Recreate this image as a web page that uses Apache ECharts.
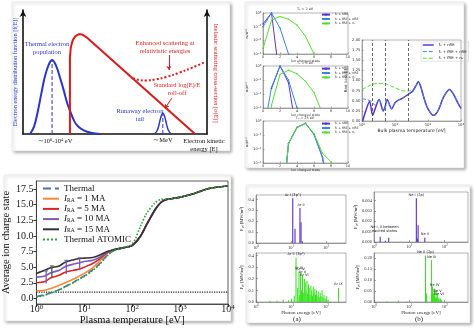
<!DOCTYPE html>
<html>
<head>
<meta charset="utf-8">
<script src="https://cdn.jsdelivr.net/npm/echarts@6/dist/echarts.min.js"></script>
<style>
  html, body { margin: 0; padding: 0; background: #fff; }
  #c { width: 474px; height: 333px; }
</style>
</head>
<body>
<div id="c"></div>
<script>
// ---------- Panel A: schematic of the electron energy distribution (arbitrary units 0-100) ----------
const thermalPopulation = [[3.8,0],[6,6],[8,18],[10,33],[12,47],[14,56],[15.8,59.7],[18,55],[20,46],[22,36],[24,25],[26,17],[28,10],[30,6],[33,3],[37,1],[42,0]];
const thermalCentre = [[15.8,0],[15.8,59.7]];
const runawayTail = [[71.5,0],[73,3],[74,8],[75,14],[76,17],[77,14],[78,8],[79,3],[80.5,0]];
const runawayCentre = [[76,0],[76,17]];
const crossSectionStd = [[25.5,0],[25.5,62],[26,70],[27,75.5],[28.5,79],[30.5,80.6],[32.5,80],[35,77.5],[93.5,0]];
const crossSectionRel = [[59.8,45],[63,43.5],[67,43.2],[72,44],[78,46],[85,49.5],[92,53.5],[99,58]];
const enhancedArrow = [[79.3,63.7],[79.3,51.6]];
const rollOffArrow = [[80.8,28.8],[77.2,20.7]];

// ---------- Panel B: average ion charge state vs plasma temperature ----------
const plasmaTemp = [1,1.5,2,3,4,6,8,10,15,20,30,40,60,100,150,200,300,400,500,700,1000,2000,4000,10000];
const zHighT      = [8.05,8.5,10.0,11.8,14.2,15.4,15.8,16.0,16.2,16.8,17.6,18.0];
const zThermal    = [0.3,0.6,0.9,1.4,1.9,2.6,3.2,3.6,4.6,5.4,6.9,7.6, ...zHighT];
const zIra1       = [1.2,1.3,1.6,2.1,2.5,3.1,3.6,4.0,4.9,5.8,7.2,7.7, ...zHighT];
const zIra5       = [2.5,2.7,3.3,3.7,4.2,4.5,4.7,5.0,5.6,6.2,7.3,7.7, ...zHighT];
const zIra10      = [3.4,3.6,4.1,4.5,5.1,5.5,5.7,5.9,6.1,6.5,7.4,7.75, ...zHighT];
const zIra15      = [4.0,4.5,4.9,5.2,5.8,6.2,6.4,6.45,6.55,6.85,7.5,7.8, ...zHighT];
const zAtomic     = [0.2,0.5,0.85,1.35,1.85,2.55,3.1,3.5,4.5,5.3,6.8,7.6,8.05,8.7,11.6,13.6,15.3,15.85,15.9,16.0,16.2,16.8,17.6,18.0];
const neutralLevel = [[1,1],[10000,1]];
const errorBars10 = [[1.6,2.4,4.4],[4.2,3.9,6.1],[8,4.5,6.5]];
const errorBars15 = [[2.1,3.3,5.2]];
const namesB = ['Thermal','I_RA = 1 MA','I_RA = 5 MA','I_RA = 10 MA','I_RA = 15 MA','Thermal ATOMIC'];
const zTicks = [0,2.5,5,7.5,10,12.5,15,17.5];

// ---------- Panel C: charge-state distributions and radiated energy ----------
const chargeState = [0,1,2,3,4,5,6,7,8,9];
const sliceTitles = ['T\u2091 = 2 eV','T\u2091 = 5 eV','T\u2091 = 25 eV'];
const c1Purple = [0.16,1.0,1e-5,null,null,null,null,null,null,null];
const c1Blue   = [0.1,1.0,0.08,0.001,1e-6,null,null,null,null,null];
const c1Green  = [0.0025,0.3,0.55,0.35,0.13,0.02,0.001,1e-5,null,null];
const c2Purple = [null,0.025,1.0,0.063,1e-5,null,null,null,null,null];
const c2Blue   = [1e-5,0.03,1.0,0.1,0.001,1e-6,null,null,null,null];
const c2Green  = [1e-8,0.0016,0.25,0.5,0.28,0.08,0.0126,0.0004,null,null];
const c3Purple = [null,null,1e-8,0.025,0.35,0.68,0.11,0.0025,1e-6,null];
const c3Blue   = [null,null,1e-8,0.025,0.35,0.68,0.11,0.0025,1e-6,null];
const c3Green  = [null,null,1e-8,0.025,0.35,0.68,0.125,0.005,0.0012,1e-6];
const namesC = ['f\u2080 + nRE','f\u2080 + fRE + nRE','f\u2080 + fRE + n\u2091'];
const radPurple = [[1.05,0.0],[1.3,0.25],[1.7,0.48],[2.1,0.14],[2.5,0.3],[3.3,0.53],[4.4,0.25],[5.0,0.35],[5.8,0.53],[7.9,0.3],[10,0.45],[13,0.52],[16,0.55],[20,0.6],[25,0.66],[30,0.7],[36,0.76],[45,0.9],[51,0.97],[60,0.85],[80,0.5],[100,0.3],[145,0.14],[200,0.25],[300,0.6],[450,0.78],[600,0.65],[800,0.45],[1000,0.31]];
const radBlue   = [[1,0.55],[1.5,0.52],[2,0.48],[2.4,0.4],[3.3,0.53],[4.4,0.25],[5.0,0.35],[5.8,0.53],[7.9,0.3],[10,0.45],[13,0.52],[16,0.55],[20,0.6],[25,0.66],[30,0.7],[36,0.76],[45,0.9],[51,0.97],[60,0.85],[80,0.5],[100,0.3],[145,0.14],[200,0.25],[300,0.6],[450,0.78],[600,0.65],[800,0.45],[1000,0.31]];
const radGreen  = [[1,0.78],[1.5,0.85],[2,0.9],[3,0.93],[4.5,0.93],[6,0.9],[10,0.82],[15,0.76],[20,0.74],[25,0.74],[30,0.76],[36,0.78],[45,0.9],[51,0.97],[60,0.85],[80,0.5],[100,0.3],[145,0.14],[200,0.25],[300,0.6],[450,0.78],[600,0.65],[800,0.45],[1000,0.31]];
const sliceTemps = [2,5,25];
const radTicks = [0,0.25,0.5,0.75,1.0,1.25,1.5,1.75,2.0];

// ---------- Panel D: line-radiation spectra ----------
const specArTop = [[11.2,0.41],[13,0.13],[18,0.32],[19.3,0.19],[21,0.015]];
const specArBottom = [[2.5,0.01],[4,0.012],[6,0.02],[8.5,0.015],[10.5,0.03],[12.4,0.05],[13.9,0.38],[15.5,0.12],[16.9,0.26],[17.8,0.06],[18.8,0.25],[20,0.1],[21.2,0.23],[22.5,0.08],[24,0.2],[25.5,0.17],[27,0.09],[28.5,0.18],[30,0.07],[31.5,0.15],[33,0.12],[35,0.06],[37,0.14],[39,0.1],[41,0.05],[43,0.13],[45,0.08],[48,0.11],[50,0.06],[53,0.1],[56,0.05],[60,0.09],[64,0.04],[68,0.08],[72,0.05],[77,0.1],[82,0.04],[88,0.06],[95,0.03],[105,0.05],[115,0.02],[226,0.12]];
const specNeTop = [[1.5,0.0005],[2.1,0.00012],[2.6,0.0004],[15.8,0.0042],[16.4,0.0004],[16.9,0.0003],[17.7,0.0016],[27.4,0.0004]];
const specNeBottom = [[2.3,0.003],[4.9,0.006],[9,0.002],[28.7,0.21],[30,0.03],[31,0.04],[42.6,0.19],[44,0.03],[45.5,0.07],[48,0.04],[51.7,0.06],[54,0.02],[56.6,0.05],[59,0.02],[62,0.035],[66,0.015],[69,0.02],[73,0.01],[77,0.015],[82,0.008]];
const linesArTop = [[11.2,0.41,'Ar I (3p\u2075)'],[19.3,0.32,'Ar II']];
const linesArBottom = [[13.9,0.38,'Ar II (3p\u2074)'],[16.9,0.26,'Ar III'],[18.8,0.25,'Ar IV'],[21.2,0.23,'Ar V'],[24,0.2,'Ar VI'],[226,0.12,'Ar IX']];
const linesNeTop = [[15.8,0.0042,'Ne I (2p)'],[27.4,0.0004,'Ne II'],[2.0,0.0007,'Ne I, II between\nexcited states']];
const linesNeBottom = [[28.7,0.21,'Ne II (2p)'],[42.6,0.19,'Ne III'],[51.7,0.06,'Ne IV'],[62,0.035,'Ne V'],[69,0.02,'Ne VI']];
const arTicks = [0,0.1,0.2,0.3,0.4];
const neTopTicks = [0,0.001,0.002,0.003,0.004];
const neBottomTicks = [0,0.05,0.1,0.15,0.2];
const decades = [1,10,100];

// ---------- styling ----------
const SERIF = 'Liberation Serif';
const SANS = 'DejaVu Sans';
const BLUE_A = '#2a36c8', RED_A = '#d81b1b';
const C_PURPLE = '#5b34d0', C_BLUE = '#3a86d8', C_GREEN = '#5ad83a';

const pair = (xs, ys) => xs.map((x, i) => [x, ys[i]]);
function powLabel(v) {
  const e = Math.round(Math.log10(v));
  if (Math.abs(Math.log10(v) - e) > 1e-6) return '';
  return '10{s|' + (e < 0 ? '\u2212' + (-e) : e) + '}';
}

function spikeSeries(xi, yi, data, color, width) {
  return {
    type: 'custom', xAxisIndex: xi, yAxisIndex: yi, data: data, silent: true,
    renderItem: (params, api) => {
      const a = api.coord([api.value(0), 0]);
      const b = api.coord([api.value(0), api.value(1)]);
      return { type: 'line', shape: { x1: a[0], y1: a[1], x2: b[0], y2: b[1] },
               style: { stroke: color, lineWidth: width } };
    }
  };
}
function labelSeries(xi, yi, items) {
  return {
    type: 'custom', xAxisIndex: xi, yAxisIndex: yi, data: items.map(d => [d[0], d[1]]), silent: true, z: 5,
    renderItem: (params, api) => {
      const p = api.coord([api.value(0), api.value(1)]);
      return { type: 'text', style: { x: p[0], y: p[1] - 1.5, text: items[params.dataIndex][2],
               fill: '#222', fontSize: 3.6, fontFamily: SANS, align: 'center', verticalAlign: 'bottom' } };
    }
  };
}
function errorBarSeries(xi, yi, data, color) {
  return {
    type: 'custom', xAxisIndex: xi, yAxisIndex: yi, data: data, silent: true, z: 4,
    renderItem: (params, api) => {
      const lo = api.coord([api.value(0), api.value(1)]);
      const hi = api.coord([api.value(0), api.value(2)]);
      return { type: 'group', children: [
        { type: 'line', shape: { x1: lo[0], y1: lo[1], x2: hi[0], y2: hi[1] }, style: { stroke: color, lineWidth: 1.3 } },
        { type: 'line', shape: { x1: hi[0] - 2, y1: hi[1], x2: hi[0] + 2, y2: hi[1] }, style: { stroke: color, lineWidth: 1 } }
      ] };
    }
  };
}
function lineSeries(xi, yi, name, data, color, width, type, extra) {
  return Object.assign({
    type: 'line', name: name, xAxisIndex: xi, yAxisIndex: yi, data: data, symbol: 'none',
    lineStyle: { color: color, width: width, type: type || 'solid' }, itemStyle: { color: color },
    emphasis: { disabled: true }, animation: false
  }, extra || {});
}

// Axis factories
const hidden = { show: false };
function schematicX() {
  return { gridIndex: 0, type: 'value', min: 0, max: 100, axisLine: { show: true, onZero: false, lineStyle: { color: '#111', width: 1.6 } },
           axisTick: hidden, axisLabel: hidden, splitLine: hidden };
}
function schematicY(pos) {
  return { gridIndex: 0, type: 'value', position: pos, min: 0, max: 100,
           axisLine: { show: true, onZero: false, symbol: ['none', 'arrow'], symbolSize: [5, 7], lineStyle: { color: '#111', width: 1.6 } },
           axisTick: hidden, axisLabel: hidden, splitLine: hidden };
}
function smallLinX(grid, name) {
  return { gridIndex: grid, type: 'value', min: 0, max: 10, interval: 2,
           axisLine: { onZero: false, lineStyle: { color: '#666', width: 0.5 } },
           axisTick: { inside: true, length: 1.5, lineStyle: { width: 0.5 } },
           axisLabel: { fontSize: 3.5, margin: 1, color: '#333', fontFamily: SANS },
           splitLine: hidden, name: name, nameLocation: 'middle', nameGap: 4.5,
           nameTextStyle: { fontSize: 3.3, color: '#333', fontFamily: SANS } };
}
function smallLogY(grid) {
  return { gridIndex: grid, type: 'log', logBase: 10, min: 0.001, max: 1,
           axisLine: { lineStyle: { color: '#666', width: 0.5 } },
           axisTick: { inside: true, length: 1.5, lineStyle: { width: 0.5 } },
           axisLabel: { fontSize: 3.5, margin: 1.5, color: '#333', fontFamily: SANS, formatter: powLabel,
                        rich: { s: { fontSize: 2.6, verticalAlign: 'top', padding: [0, 0, 2, 0] } } },
           splitLine: hidden, name: 'n\u1d62/n\u1d57\u1d52\u1d57', nameLocation: 'middle', nameGap: 8, nameRotate: 90,
           nameTextStyle: { fontSize: 3.5, color: '#333', fontFamily: SANS } };
}
function spectrumX(grid, max, name) {
  return { gridIndex: grid, type: 'log', logBase: 10, min: 1, max: max,
           axisLine: { onZero: false, lineStyle: { color: '#666', width: 0.6 } },
           axisTick: { inside: true, length: 2, customValues: decades, lineStyle: { width: 0.6 } },
           axisLabel: { fontSize: 4.5, margin: 2, color: '#333', fontFamily: SERIF, customValues: decades, formatter: powLabel,
                        rich: { s: { fontSize: 3.2, verticalAlign: 'top', padding: [0, 0, 2, 0] } } },
           splitLine: hidden, name: name || '', nameLocation: 'middle', nameGap: 7,
           nameTextStyle: { fontSize: 5, color: '#222', fontFamily: SERIF } };
}
function spectrumY(grid, max, ticks, digits) {
  return { gridIndex: grid, type: 'value', min: 0, max: max,
           axisLine: { lineStyle: { color: '#666', width: 0.6 } },
           axisTick: { inside: true, length: 2, customValues: ticks, lineStyle: { width: 0.6 } },
           axisLabel: { fontSize: 4.5, margin: 2, color: '#333', fontFamily: SERIF, customValues: ticks,
                        formatter: v => v.toFixed(digits) },
           splitLine: hidden, name: 'P\u209a\u2097 [MW/m\u00b3]', nameLocation: 'middle', nameGap: digits > 2 ? 13 : 9,
           nameRotate: 90, nameTextStyle: { fontSize: 4.5, color: '#222', fontFamily: SERIF } };
}

const gridBox = { show: true, borderColor: '#666', borderWidth: 0.5, backgroundColor: 'transparent' };
const smallLegend = (top) => ({
  data: namesC, orient: 'vertical', left: 321, top: top, itemWidth: 8, itemHeight: 3, itemGap: 1.2, padding: 0,
  selectedMode: false, textStyle: { fontSize: 3.2, fontFamily: SANS, color: '#222', lineHeight: 3.2 }
});

const option = {
  animation: false,
  backgroundColor: '#ffffff',
  textStyle: { fontFamily: SERIF },
  grid: [
    { left: 23, top: 10, width: 184, height: 124 },                                      // 0 schematic
    { left: 35, top: 181, width: 193, height: 123, show: true, borderColor: '#333', borderWidth: 0.8 }, // 1 charge state
    Object.assign({ left: 263, top: 13, width: 85, height: 41 }, gridBox),               // 2
    Object.assign({ left: 263, top: 66, width: 85, height: 42 }, gridBox),               // 3
    Object.assign({ left: 263, top: 121, width: 85, height: 42 }, gridBox),              // 4
    Object.assign({ left: 362, top: 40, width: 99, height: 81 }, gridBox),               // 5 radiated energy
    Object.assign({ left: 256, top: 195, width: 90, height: 48 }, gridBox),              // 6 Ar top
    Object.assign({ left: 256, top: 253, width: 90, height: 49 }, gridBox),              // 7 Ar bottom
    Object.assign({ left: 374, top: 192, width: 94, height: 50 }, gridBox),              // 8 Ne top
    Object.assign({ left: 374, top: 253, width: 94, height: 49 }, gridBox)               // 9 Ne bottom
  ],
  xAxis: [
    schematicX(),
    { gridIndex: 1, type: 'log', logBase: 10, min: 1, max: 10000,
      axisLine: { onZero: false, lineStyle: { color: '#333', width: 0.8 } },
      axisTick: { length: 3, lineStyle: { color: '#333' } },
      axisLabel: { fontSize: 10, margin: 0, color: '#222', fontFamily: SERIF, formatter: powLabel,
                   rich: { s: { fontSize: 7, verticalAlign: 'top', padding: [0, 0, 3, 0] } } },
      splitLine: hidden, name: 'Plasma temperature [eV]', nameLocation: 'middle', nameGap: 5,
      nameTextStyle: { fontSize: 10.5, color: '#111', fontFamily: SERIF } },
    smallLinX(2, 'Ion charged state'),
    smallLinX(3, 'Ion charged state'),
    smallLinX(4, 'Ion charged state'),
    { gridIndex: 5, type: 'log', logBase: 10, min: 1, max: 1000,
      axisLine: { onZero: false, lineStyle: { color: '#666', width: 0.5 } },
      axisTick: { inside: true, length: 1.5, lineStyle: { width: 0.5 } },
      axisLabel: { fontSize: 3.8, margin: 1.5, color: '#333', fontFamily: SANS, formatter: powLabel,
                   rich: { s: { fontSize: 2.8, verticalAlign: 'top', padding: [0, 0, 2, 0] } } },
      splitLine: hidden, name: 'Bulk plasma temperature [eV]', nameLocation: 'middle', nameGap: 6,
      nameTextStyle: { fontSize: 4.5, color: '#222', fontFamily: SANS } },
    spectrumX(6, 372),
    spectrumX(7, 372, 'Photon energy [eV]'),
    spectrumX(8, 457),
    spectrumX(9, 457, 'Photon energy [eV]')
  ],
  yAxis: [
    schematicY('left'),
    schematicY('right'),
    { gridIndex: 1, type: 'value', min: -0.9, max: 18.8,
      axisLine: { lineStyle: { color: '#333', width: 0.8 } },
      axisTick: { length: 3, customValues: zTicks, lineStyle: { color: '#333' } },
      axisLabel: { fontSize: 10, margin: 3, color: '#222', fontFamily: SERIF, customValues: zTicks,
                   formatter: v => v.toFixed(1) },
      splitLine: hidden, name: 'Average ion charge state', nameLocation: 'middle', nameGap: 19, nameRotate: 90,
      nameTextStyle: { fontSize: 10.5, color: '#111', fontFamily: SERIF } },
    smallLogY(2), smallLogY(3), smallLogY(4),
    { gridIndex: 5, type: 'value', min: 0, max: 2,
      axisLine: { lineStyle: { color: '#666', width: 0.5 } },
      axisTick: { inside: true, length: 1.5, customValues: radTicks, lineStyle: { width: 0.5 } },
      axisLabel: { fontSize: 3.8, margin: 1.5, color: '#333', fontFamily: SANS, customValues: radTicks,
                   formatter: v => v.toFixed(2) },
      splitLine: hidden, name: 'Rad. Loss [J]', nameLocation: 'middle', nameGap: 9, nameRotate: 90,
      nameTextStyle: { fontSize: 3.8, color: '#333', fontFamily: SANS } },
    spectrumY(6, 0.44, arTicks, 1),
    spectrumY(7, 0.42, arTicks, 1),
    spectrumY(8, 0.0048, neTopTicks, 3),
    spectrumY(9, 0.222, neBottomTicks, 2)
  ],
  legend: [
    { data: namesB, orient: 'vertical', left: 42, top: 184, itemWidth: 16, itemHeight: 6, itemGap: 1.2, padding: 0,
      selectedMode: false, itemStyle: { opacity: 0 },
      textStyle: { fontFamily: SERIF, fontSize: 9, color: '#111', lineHeight: 9,
                   rich: { i: { fontStyle: 'italic', fontFamily: SERIF, fontSize: 9, lineHeight: 9 },
                           b: { fontFamily: SERIF, fontSize: 5.5, lineHeight: 5.5, verticalAlign: 'bottom' } } },
      formatter: n => n.indexOf('I_RA') === 0 ? '{i|I}{b|RA} ' + n.slice(5) : n },
    smallLegend(13), smallLegend(67), smallLegend(122),
    { data: [
        { name: namesC[0], lineStyle: { color: C_PURPLE, width: 1.5, type: 'solid' } },
        { name: namesC[1], lineStyle: { color: C_BLUE, width: 1, type: 'dashed' } },
        { name: namesC[2], lineStyle: { color: C_GREEN, width: 1, type: 'dashed' } } ],
      orient: 'vertical', left: 421, top: 42, itemWidth: 11, itemHeight: 3, itemGap: 2.6, padding: [1, 2, 1, 1],
      borderColor: '#ccc', borderWidth: 0.5, itemStyle: { opacity: 0 },
      selectedMode: false, textStyle: { fontSize: 3.8, fontFamily: SANS, color: '#222', lineHeight: 4 } }
  ],
  series: [
    // Panel A
    lineSeries(0, 0, 'thermal population', thermalPopulation, BLUE_A, 2, 'solid', { smooth: 0.4 }),
    lineSeries(0, 0, 'thermal centre', thermalCentre, BLUE_A, 1, 'dashed'),
    lineSeries(0, 0, 'runaway tail', runawayTail, BLUE_A, 1.5, 'solid', { smooth: 0.4 }),
    lineSeries(0, 0, 'runaway centre', runawayCentre, BLUE_A, 1, 'dashed'),
    lineSeries(0, 0, 'cross section', crossSectionStd, RED_A, 2, 'solid', {
      markLine: { silent: true, symbol: ['none', 'arrow'], symbolSize: 4, label: hidden,
                  lineStyle: { color: RED_A, width: 1, type: 'solid' },
                  data: [[{ coord: enhancedArrow[0] }, { coord: enhancedArrow[1] }],
                         [{ coord: rollOffArrow[0] }, { coord: rollOffArrow[1] }]] } }),
    lineSeries(0, 0, 'relativistic cross section', crossSectionRel, RED_A, 2, 'dotted', { smooth: 0.4 }),

    // Panel B
    lineSeries(1, 2, 'neutral', neutralLevel, '#222', 1.2, 'dotted'),
    lineSeries(1, 2, namesB[0], pair(plasmaTemp, zThermal), '#4c6fb8', 1.6, 'dashed', { smooth: 0.3 }),
    lineSeries(1, 2, namesB[1], pair(plasmaTemp, zIra1), '#f08a3c', 1.6, 'solid', { smooth: 0.3 }),
    lineSeries(1, 2, namesB[2], pair(plasmaTemp, zIra5), '#d8262a', 1.6, 'solid', { smooth: 0.3 }),
    lineSeries(1, 2, namesB[3], pair(plasmaTemp, zIra10), '#7c5cb4', 1.6, 'solid', { smooth: 0.3 }),
    lineSeries(1, 2, namesB[4], pair(plasmaTemp, zIra15), '#333333', 1.6, 'solid', { smooth: 0.3 }),
    lineSeries(1, 2, namesB[5], pair(plasmaTemp, zAtomic), '#2f9e3a', 1.6, 'dotted', { smooth: 0.3 }),
    errorBarSeries(1, 2, errorBars10, '#7c5cb4'),
    errorBarSeries(1, 2, errorBars15, '#555555'),

    // Panel C small plots
    ...[[c1Purple, c1Blue, c1Green], [c2Purple, c2Blue, c2Green], [c3Purple, c3Blue, c3Green]].flatMap((set, k) => [
      lineSeries(2 + k, 3 + k, namesC[0], pair(chargeState, set[0]), C_PURPLE, 1, 'solid', { symbol: 'circle', symbolSize: 1.5 }),
      lineSeries(2 + k, 3 + k, namesC[1], pair(chargeState, set[1]), C_BLUE, 1, 'solid', { symbol: 'circle', symbolSize: 1.5 }),
      lineSeries(2 + k, 3 + k, namesC[2], pair(chargeState, set[2]), C_GREEN, 1, 'solid', { symbol: 'circle', symbolSize: 1.5 })
    ]),
    // Panel C radiated energy
    lineSeries(5, 6, namesC[2], radGreen, C_GREEN, 1, 'dashed', { smooth: 0.3,
      markLine: { silent: true, symbol: 'none', label: hidden, lineStyle: { color: '#444', width: 0.8, type: [3, 2] },
                  data: sliceTemps.map(t => ({ xAxis: t })) } }),
    lineSeries(5, 6, namesC[0], radPurple, C_PURPLE, 1.5, 'solid', { smooth: 0.3 }),
    lineSeries(5, 6, namesC[1], radBlue, C_BLUE, 1, 'dashed', { smooth: 0.3 }),

    // Panel D spectra
    spikeSeries(6, 7, specArTop, '#6a3ccc', 1.2),
    spikeSeries(7, 8, specArBottom, '#33e01a', 1),
    spikeSeries(8, 9, specNeTop, '#6a3ccc', 1.2),
    spikeSeries(9, 10, specNeBottom, '#33e01a', 1),
    labelSeries(6, 7, linesArTop),
    labelSeries(7, 8, linesArBottom),
    labelSeries(8, 9, linesNeTop),
    labelSeries(9, 10, linesNeBottom)
  ],
  graphic: [
    // panel frames with a soft drop shadow
    ...[[12, 2, 218, 149], [4, 175, 227, 146], [245, 2, 219, 166], [246, 185, 224, 138]].map(r => ({
      type: 'rect', z: -10, silent: true, shape: { x: r[0], y: r[1], width: r[2], height: r[3] },
      style: { fill: '#fff', stroke: '#d8d8d8', lineWidth: 0.5, shadowBlur: 3, shadowOffsetX: 1.5, shadowOffsetY: 1.5, shadowColor: 'rgba(0,0,0,0.35)' }
    })),
    // Panel A annotations
    { type: 'text', silent: true, style: { x: 47, y: 40, text: 'Thermal electron\npopulation', fill: BLUE_A, font: '6.5px "Liberation Serif"', align: 'center', lineHeight: 8 } },
    { type: 'text', silent: true, style: { x: 140, y: 107, text: 'Runaway electron\ntail', fill: BLUE_A, font: '6.5px "Liberation Serif"', align: 'center', lineHeight: 8 } },
    { type: 'text', silent: true, style: { x: 165, y: 39, text: 'Enhanced scattering at\nrelativistic energies', fill: RED_A, font: '6.5px "Liberation Serif"', align: 'center', lineHeight: 8 } },
    { type: 'text', silent: true, style: { x: 177, y: 81, text: 'Standard log(E)/E\nroll-off', fill: RED_A, font: '6.5px "Liberation Serif"', align: 'center', lineHeight: 8 } },
    { type: 'text', silent: true, style: { x: 55, y: 137, text: '\u223c10{s|0}-10{s|4} eV', fill: '#111', font: '6.5px "Liberation Serif"', align: 'center',
      rich: { s: { fontSize: 4.5, fontFamily: SERIF, verticalAlign: 'top', padding: [0, 0, 3, 0] } } } },
    { type: 'text', silent: true, style: { x: 163, y: 137, text: '\u223cMeV', fill: '#111', font: '6.5px "Liberation Serif"', align: 'center' } },
    { type: 'text', silent: true, style: { x: 204, y: 137, text: 'Electron kinetic\nenergy [E]', fill: '#111', font: '6.5px "Liberation Serif"', align: 'center', lineHeight: 8 } },
    { type: 'text', silent: true, x: 15, y: 72, rotation: Math.PI / 2,
      style: { x: 0, y: 0, text: 'Electron energy distribution function [f(E)]', fill: BLUE_A, font: '6.3px "Liberation Serif"', align: 'center', verticalAlign: 'middle' } },
    { type: 'text', silent: true, x: 216, y: 73, rotation: -Math.PI / 2,
      style: { x: 0, y: 0, text: 'Inelastic scattering cross-section [\u03c3(E)]', fill: RED_A, font: '6.3px "Liberation Serif"', align: 'center', verticalAlign: 'middle' } },
    // Panel C titles
    ...sliceTitles.map((t, k) => ({ type: 'text', silent: true,
      style: { x: 305, y: [11, 64.8, 119.8][k], text: t, fill: '#333', font: '3.4px "DejaVu Sans"', align: 'center', verticalAlign: 'bottom' } })),
    // Panel D captions
    { type: 'text', silent: true, style: { x: 297, y: 319, text: '(a)', fill: '#222', font: '7px "Liberation Serif"', align: 'center', verticalAlign: 'middle' } },
    { type: 'text', silent: true, style: { x: 419, y: 319, text: '(b)', fill: '#222', font: '7px "Liberation Serif"', align: 'center', verticalAlign: 'middle' } }
  ]
};

const chart = echarts.init(document.getElementById('c'), null, { renderer: 'canvas' });
chart.setOption(option);
</script>
</body>
</html>
